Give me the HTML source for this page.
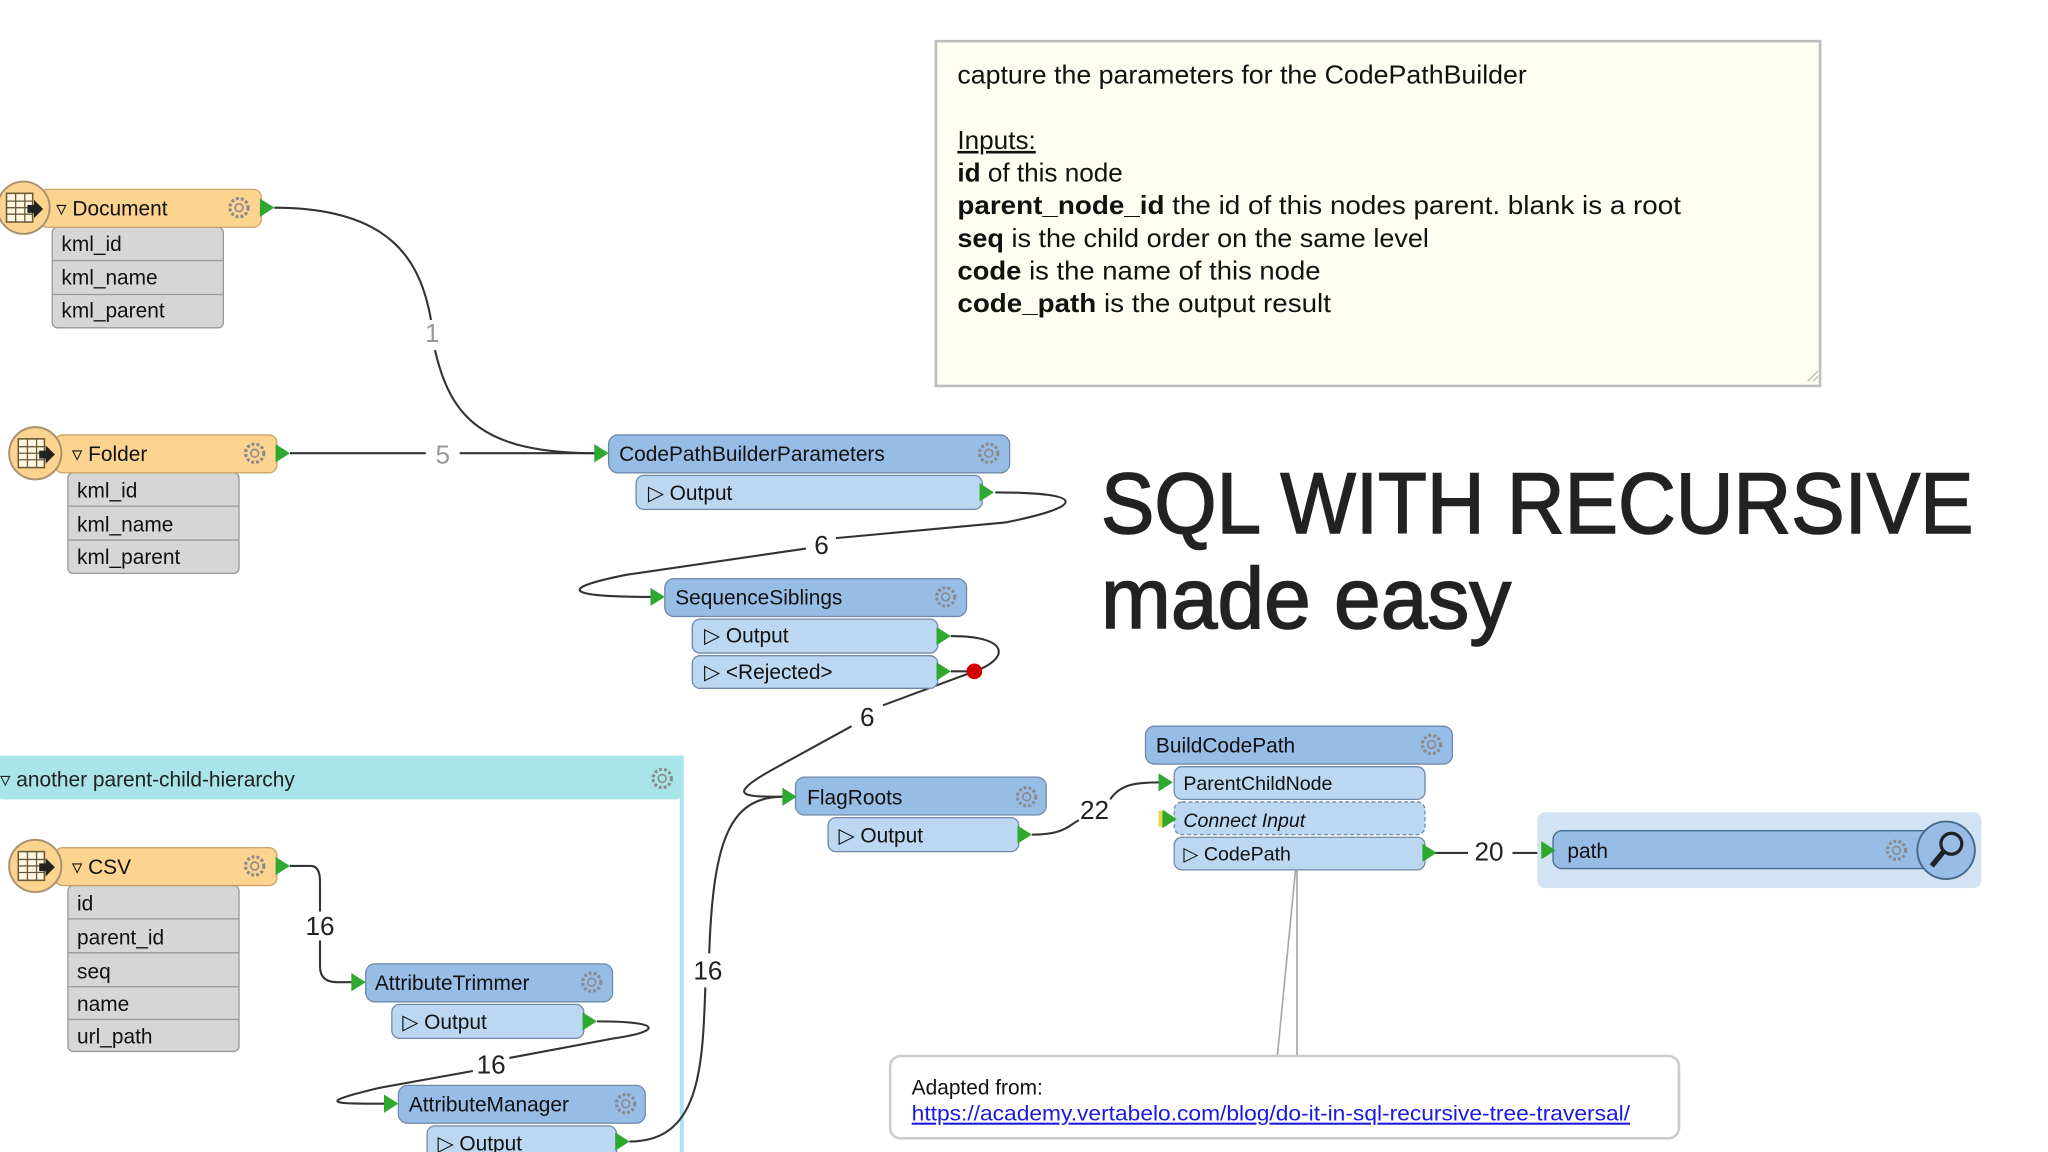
<!DOCTYPE html>
<html><head><meta charset="utf-8"><style>
html,body{margin:0;padding:0;background:#fff;width:2048px;height:1152px;overflow:hidden}
svg{display:block}
text{font-family:"Liberation Sans",sans-serif}
</style></head><body>
<svg width="2048" height="1152" viewBox="0 0 1568 882" xmlns="http://www.w3.org/2000/svg">
<defs>
<g id="gear"><circle r="7" fill="none" stroke="#8a8a8a" stroke-width="2.4" stroke-dasharray="2.2 1.6"/><circle r="3" fill="none" stroke="#8a8a8a" stroke-width="1.2"/></g>
<g id="arr"><path d="M0,-7 L11,0 L0,7 Z" fill="#2ea82e"/></g>
<g id="icon"><rect x="-12" y="-12" width="20" height="22" fill="#fff7e0" stroke="#6a5a3a" stroke-width="1.2"/><path d="M-12,-6 H8 M-12,-1 H8 M-12,4 H8 M-5,-12 V10 M2,-12 V10" stroke="#6a5a3a" stroke-width="1"/><path d="M4,-3 h5 v-4 l7,7 l-7,7 v-4 h-5z" fill="#222"/></g>
</defs>

<rect x="-2" y="580" width="524" height="310" fill="#fff" stroke="#a8e4e8" stroke-width="3"/>
<rect x="-2" y="580" width="524" height="32" rx="4" fill="#a8e4e8"/>
<text x="0" y="602" font-size="16" fill="#222">▿ another parent-child-hierarchy</text>
<use href="#gear" x="507" y="596"/>

<rect x="716.5" y="31.5" width="677" height="264" fill="#fffef2" stroke="#bdbdbd" stroke-width="2"/>
<path d="M1384,292 l8,-8 M1388,292 l4,-4" stroke="#bbb" stroke-width="1"/>
<g font-size="20" fill="#111">
<text x="733" y="64" textLength="436" lengthAdjust="spacingAndGlyphs">capture the parameters for the CodePathBuilder</text>
<text x="733" y="114" text-decoration="underline">Inputs:</text>
<text x="733" y="139"><tspan font-weight="bold">id</tspan> of this node</text>
<text x="733" y="164" textLength="554" lengthAdjust="spacingAndGlyphs"><tspan font-weight="bold">parent_node_id</tspan> the id of this nodes parent. blank is a root</text>
<text x="733" y="189" textLength="361" lengthAdjust="spacingAndGlyphs"><tspan font-weight="bold">seq</tspan> is the child order on the same level</text>
<text x="733" y="214" textLength="278" lengthAdjust="spacingAndGlyphs"><tspan font-weight="bold">code</tspan> is the name of this node</text>
<text x="733" y="239" textLength="286" lengthAdjust="spacingAndGlyphs"><tspan font-weight="bold">code_path</tspan> is the output result</text>
</g>

<text x="843" y="408" font-size="66" fill="#222" stroke="#222" stroke-width="1.2" textLength="668" lengthAdjust="spacingAndGlyphs">SQL WITH RECURSIVE</text>
<text x="843" y="481" font-size="66" fill="#222" stroke="#222" stroke-width="1.2" textLength="314" lengthAdjust="spacingAndGlyphs">made easy</text>

<g fill="none" stroke="#333" stroke-width="1.6">
<path d="M210,159 C300,159 322,200 330,245 M333,268 C345,320 370,347 456,347"/>
<path d="M222,347 H326 M352,347 H456"/>
<path d="M762,377 C835,377 830,388 770,400 L640,412 M617,420 L480,440 C420,452 440,457 500,457"/>
<path d="M728,487 C775,487 772,505 746,514 L728,514"/>
<path d="M746,514 L676,540 M652,556 L590,590 C555,610 570,610 600,610"/>
<path d="M790,639 C815,639 818,632 826,628 M850,612 C858,600 870,599 890,599"/>
<path d="M1098,653 H1124 M1158,653 H1180"/>
<path d="M222,663 H238 Q245,663 245,675 V698 M245,720 V740 Q245,752 258,752 H270"/>
<path d="M457,782 C510,782 505,790 470,795 L390,810 M362,820 L290,833 C240,845 255,845 295,845"/>
<path d="M482,874 C535,874 538,820 540,756 M543,730 C546,640 560,610 600,610"/>
</g>
<g font-size="20" text-anchor="middle">
<text x="331" y="262" fill="#999">1</text>
<text x="339" y="355" fill="#999">5</text>
<text x="629" y="424" fill="#222">6</text>
<text x="664" y="556" fill="#222">6</text>
<text x="838" y="627" fill="#222">22</text>
<text x="1140" y="659" fill="#222">20</text>
<text x="245" y="716" fill="#222">16</text>
<text x="376" y="822" fill="#222">16</text>
<text x="542" y="750" fill="#222">16</text>
</g>
<circle cx="746" cy="514" r="6" fill="#d40000"/>

<path d="M978,808 L992,665 M993,808 V665" stroke="#aaa" stroke-width="1.3" fill="none"/>
<rect x="681.5" y="808.5" width="604" height="63" rx="8" fill="#fff" stroke="#ccc" stroke-width="2"/>
<text x="698" y="838" font-size="16" fill="#111">Adapted from:</text>
<text x="698" y="858" font-size="16" fill="#1a1ae0" text-decoration="underline" textLength="550" lengthAdjust="spacingAndGlyphs">https://academy.vertabelo.com/blog/do-it-in-sql-recursive-tree-traversal/</text>

<g font-size="16" fill="#111">
<rect x="40" y="174" width="131" height="77" rx="4" fill="#d6d6d6" stroke="#999"/>
<path d="M40,199.5 H171 M40,225.5 H171" stroke="#999"/>
<text x="47" y="192">kml_id</text><text x="47" y="218">kml_name</text><text x="47" y="243">kml_parent</text>
<rect x="30" y="145" width="170" height="29" rx="6" fill="#fcd48f" stroke="#c9a56a"/>
<circle cx="18" cy="159" r="20" fill="#fcd48f" stroke="#aa9070" stroke-width="1.5"/><use href="#icon" x="17" y="160"/>
<text x="43" y="165">▿ Document</text><use href="#gear" x="183" y="159"/><use href="#arr" x="199" y="159"/>
<rect x="52" y="362" width="131" height="77" rx="4" fill="#d6d6d6" stroke="#999"/>
<path d="M52,387.5 H183 M52,413.5 H183" stroke="#999"/>
<text x="59" y="381">kml_id</text><text x="59" y="407">kml_name</text><text x="59" y="432">kml_parent</text>
<rect x="42" y="333" width="170" height="29" rx="6" fill="#fcd48f" stroke="#c9a56a"/>
<circle cx="27" cy="347" r="20" fill="#fcd48f" stroke="#aa9070" stroke-width="1.5"/><use href="#icon" x="26" y="348"/>
<text x="55" y="353">▿ Folder</text><use href="#gear" x="195" y="347"/><use href="#arr" x="211" y="347"/>
<rect x="52" y="678" width="131" height="127" rx="4" fill="#d6d6d6" stroke="#999"/>
<path d="M52,703.5 H183 M52,729.5 H183 M52,755.5 H183 M52,780.5 H183" stroke="#999"/>
<text x="59" y="697">id</text><text x="59" y="723">parent_id</text><text x="59" y="749">seq</text><text x="59" y="774">name</text><text x="59" y="799">url_path</text>
<rect x="42" y="649" width="170" height="29" rx="6" fill="#fcd48f" stroke="#c9a56a"/>
<circle cx="27" cy="663" r="20" fill="#fcd48f" stroke="#aa9070" stroke-width="1.5"/><use href="#icon" x="26" y="664"/>
<text x="55" y="669">▿ CSV</text><use href="#gear" x="195" y="663"/><use href="#arr" x="211" y="663"/>
</g>

<g font-size="16" fill="#111">
<rect x="487" y="364" width="265" height="26" rx="6" fill="#bcd7f2" stroke="#6f8aa8"/>
<text x="496" y="383">▷ Output</text><use href="#arr" x="750" y="377"/>
<rect x="466" y="333" width="307" height="29" rx="7" fill="#97bde6" stroke="#6f8aa8"/>
<text x="474" y="353">CodePathBuilderParameters</text><use href="#gear" x="757" y="347"/><use href="#arr" x="455" y="347"/>
<rect x="530" y="474" width="188" height="26" rx="6" fill="#bcd7f2" stroke="#6f8aa8"/>
<rect x="530" y="502" width="188" height="25" rx="6" fill="#bcd7f2" stroke="#6f8aa8"/>
<text x="539" y="492">▷ Output</text><text x="539" y="520">▷ &lt;Rejected&gt;</text>
<use href="#arr" x="717" y="487"/><use href="#arr" x="717" y="514"/>
<rect x="509" y="443" width="231" height="29" rx="7" fill="#97bde6" stroke="#6f8aa8"/>
<text x="517" y="463">SequenceSiblings</text><use href="#gear" x="724" y="457"/><use href="#arr" x="498" y="457"/>
<rect x="634" y="626" width="146" height="26" rx="6" fill="#bcd7f2" stroke="#6f8aa8"/>
<text x="642" y="645">▷ Output</text><use href="#arr" x="779" y="639"/>
<rect x="609" y="595" width="192" height="29" rx="7" fill="#97bde6" stroke="#6f8aa8"/>
<text x="618" y="616">FlagRoots</text><use href="#gear" x="786" y="610"/><use href="#arr" x="599" y="610"/>
<rect x="899" y="587" width="192" height="25" rx="6" fill="#bcd7f2" stroke="#6f8aa8"/>
<rect x="899" y="614" width="192" height="25" rx="6" fill="#bcd7f2" stroke="#6f8aa8" stroke-dasharray="3 2"/>
<rect x="899" y="641" width="192" height="25" rx="6" fill="#bcd7f2" stroke="#6f8aa8"/>
<text x="906" y="605" font-size="15">ParentChildNode</text>
<text x="906" y="633" font-size="15" font-style="italic">Connect Input</text>
<text x="906" y="659" font-size="15">▷ CodePath</text>
<use href="#arr" x="887" y="599"/><rect x="887" y="621" width="6" height="12" fill="#e8d84a"/><use href="#arr" x="890" y="627"/>
<use href="#arr" x="1089" y="653"/>
<rect x="877" y="556" width="235" height="29" rx="7" fill="#97bde6" stroke="#6f8aa8"/>
<text x="885" y="576">BuildCodePath</text><use href="#gear" x="1096" y="570"/>
<rect x="300" y="769" width="147" height="26" rx="6" fill="#bcd7f2" stroke="#6f8aa8"/>
<text x="308" y="788">▷ Output</text><use href="#arr" x="446" y="782"/>
<rect x="280" y="738" width="189" height="29" rx="7" fill="#97bde6" stroke="#6f8aa8"/>
<text x="287" y="758">AttributeTrimmer</text><use href="#gear" x="453" y="752"/><use href="#arr" x="269" y="752"/>
<rect x="327" y="862" width="145" height="26" rx="6" fill="#bcd7f2" stroke="#6f8aa8"/>
<text x="335" y="881">▷ Output</text><use href="#arr" x="471" y="874"/>
<rect x="305" y="831" width="189" height="29" rx="7" fill="#97bde6" stroke="#6f8aa8"/>
<text x="313" y="851">AttributeManager</text><use href="#gear" x="479" y="845"/><use href="#arr" x="294" y="845"/>
<rect x="1177" y="622" width="340" height="58" rx="6" fill="#d2e3f4"/>
<rect x="1189" y="636" width="300" height="29" rx="7" fill="#97bde6" stroke="#4a6a8a"/>
<text x="1200" y="657">path</text><use href="#gear" x="1452" y="651"/>
<circle cx="1490" cy="651" r="22" fill="#97bde6" stroke="#4a6a8a" stroke-width="1.5"/>
<circle cx="1494" cy="646" r="8" fill="none" stroke="#222" stroke-width="2.5"/><path d="M1488,652 L1479,663" stroke="#222" stroke-width="4"/>
<use href="#arr" x="1180" y="651"/>
</g>
</svg>
</body></html>
